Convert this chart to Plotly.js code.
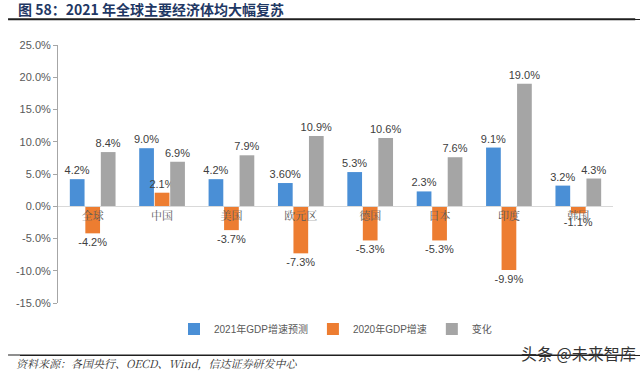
<!DOCTYPE html>
<html>
<head>
<meta charset="utf-8">
<script src="https://cdn.plot.ly/plotly-3.0.1.min.js"></script>
<style>html,body{margin:0;padding:0;background:#fff;}#chart{width:640px;height:380px;}</style>
</head>
<body>
<div id="chart"></div>
<script>
const categories = ['全球','中国','美国','欧元区','德国','日本','印度','韩国'];
const gdp2021 = [4.2, 9.0, 4.2, 3.6, 5.3, 2.3, 9.1, 3.2];
const gdp2020 = [-4.2, 2.1, -3.7, -7.3, -5.3, -5.3, -9.9, -1.1];
const change = [8.4, 6.9, 7.9, 10.9, 10.6, 7.6, 19.0, 4.3];
const labels2021 = ['4.2%','9.0%','4.2%','3.60%','5.3%','2.3%','9.1%','3.2%'];
const labels2020 = ['-4.2%','2.1%','-3.7%','-7.3%','-5.3%','-5.3%','-9.9%','-1.1%'];
const labelsChange = ['8.4%','6.9%','7.9%','10.9%','10.6%','7.6%','19.0%','4.3%'];
const seriesNames = ['2021年GDP增速预测','2020年GDP增速','变化'];
const yTicks = [25,20,15,10,5,0,-5,-10,-15];

const font = 'Arial, "Liberation Sans", "Noto Sans CJK SC", sans-serif';
const labelFont = {family: font, size: 11, color: '#404040'};
function mk(name, y, text, color) {
  return {type:'bar', name, x: categories, y, text, textposition:'outside', constraintext:'inside',
    textfont: labelFont, cliponaxis:false, marker:{color}, hoverinfo:'skip'};
}
const data = [
  mk(seriesNames[0], gdp2021, labels2021, '#4A8FD6'),
  mk(seriesNames[1], gdp2020, labels2020, '#ED7D31'),
  mk(seriesNames[2], change, labelsChange, '#A5A5A5')
];
const layout = {
  width:640, height:380,
  margin:{l:58, r:27, t:45, b:77},
  paper_bgcolor:'#fff', plot_bgcolor:'#fff',
  barmode:'group', bargap:0.33, bargroupgap:0.05,
  showlegend:true,
  legend:{orientation:'h', x:0.5, xanchor:'center', y:-0.045, yanchor:'top',
    font:{family:font, size:10, color:'#595959'}, itemwidth:30, tracegroupgap:0},
  xaxis:{type:'category', anchor:'free', position:0.375, showline:true, linecolor:'#D9D9D9', linewidth:1,
    ticks:'', showgrid:false, zeroline:false,
    tickfont:{family:'"Noto Serif CJK SC","Noto Sans CJK SC", serif', size:11, color:'#595959'}},
  yaxis:{range:[-15,25], tickvals:yTicks, ticktext:yTicks.map(v=>v.toFixed(1)+'%'),
    showline:true, linecolor:'#A6A6A6', linewidth:1, ticks:'outside', ticklen:4, tickcolor:'#A6A6A6',
    showgrid:false, zeroline:false, tickfont:{family:font, size:11, color:'#595959'}},
  shapes:[
    {type:'line', xref:'paper', yref:'paper', x0:-0.09, x1:1.04, y0:1.1, y1:1.1, line:{color:'#1F1F1F', width:2}},
    {type:'line', xref:'paper', yref:'paper', x0:-0.09, x1:1.04, y0:-0.2016, y1:-0.2016, line:{color:'#1F1F1F', width:1}}
  ],
  annotations:[
    {text:' ', xref:'paper', yref:'paper', x:0.5, y:1.1, xanchor:'center', yanchor:'middle', showarrow:false,
      width:632, height:1, bgcolor:'#1F1F1F', borderpad:0, borderwidth:0, font:{size:1}},
    {text:' ', xref:'paper', yref:'paper', x:0.5, y:-0.2016, xanchor:'center', yanchor:'middle', showarrow:false,
      width:632, height:1, bgcolor:'#1F1F1F', borderpad:0, borderwidth:0, font:{size:1}},
    {text:'<b>图 58：2021 年全球主要经济体均大幅复苏</b>', xref:'paper', yref:'paper', x:-0.075, y:1.14, xanchor:'left', yanchor:'middle',
      showarrow:false, font:{family:'"Noto Sans CJK SC", sans-serif', size:14, color:'#1F3864'}},
    {text:'资料来源：各国央行、OECD、Wind，信达证券研发中心', xref:'paper', yref:'paper', x:-0.08, y:-0.232, xanchor:'left', yanchor:'middle',
      showarrow:false, font:{family:'"Noto Serif CJK SC","Noto Sans CJK SC", serif', size:11, color:'#333', style:'italic'}},
    {text:'头条 @未来智库', xref:'paper', yref:'paper', x:1.045, y:-0.195, xanchor:'right', yanchor:'middle',
      showarrow:false, font:{family:'"Noto Sans CJK SC", sans-serif', size:16, color:'#333'}}
  ]
};
Plotly.newPlot('chart', data, layout, {displayModeBar:false, staticPlot:true});
</script>
</body>
</html>
